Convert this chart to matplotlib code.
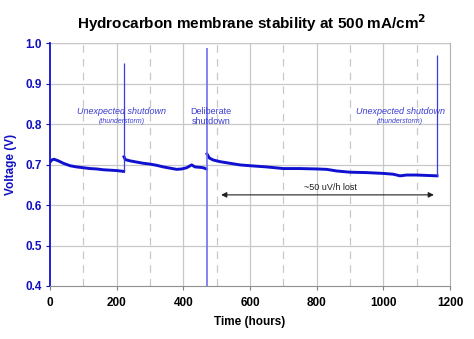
import matplotlib
matplotlib.use("Agg")
import matplotlib.pyplot as plt

# ---- data ----
seg1_t = [0, 5, 12, 25, 40, 60, 80, 100, 120, 140, 160, 180, 200, 221]
seg1_v = [0.706, 0.711, 0.713, 0.709, 0.703, 0.697, 0.694, 0.692, 0.690, 0.689, 0.687, 0.686, 0.685, 0.683]
seg2_t = [222, 226, 240, 260, 280, 300, 320, 340, 360, 380, 395, 410, 425, 435, 450, 460, 469]
seg2_v = [0.719, 0.712, 0.709, 0.706, 0.703, 0.701, 0.698, 0.694, 0.691, 0.688, 0.689, 0.692, 0.699, 0.694, 0.693, 0.692, 0.689]
seg3_t = [471, 478, 490, 510, 540, 570, 600, 650, 700, 750, 800, 830, 860, 900, 950, 1000, 1030, 1050, 1070, 1100, 1130, 1161]
seg3_v = [0.726, 0.716, 0.711, 0.707, 0.703, 0.699, 0.697, 0.694, 0.690, 0.690, 0.689, 0.688, 0.684, 0.681, 0.680, 0.678, 0.676, 0.672, 0.674, 0.674, 0.673, 0.672]
spike_t = [222, 1161]
spike_low = [0.683, 0.672]
spike_high = [0.950, 0.970]
deliberate_t = 470
deliberate_high = 0.988
xticks = [0, 200, 400, 600, 800, 1000, 1200]
yticks = [0.4, 0.5, 0.6, 0.7, 0.8, 0.9, 1.0]

plt.rcParams['font.family'] = ['Liberation Sans', 'DejaVu Sans']
blue = '#1010d0'
fig = plt.figure(figsize=(4.74, 3.39), dpi=100)
ax = fig.add_axes([50/474, 1-286/339, 400/474, 243/339])

# grid
for x in range(100, 1200, 100):
    if x % 200 == 0:
        ax.axvline(x, color='#c8c8c8', lw=0.9, zorder=0)
    else:
        ax.axvline(x, color='#c8c8c8', lw=0.9, ls=(0, (6, 5)), zorder=0)
for y in yticks[1:]:
    ax.axhline(y, color='#c8c8c8', lw=0.9, zorder=0)

for t, v in [(seg1_t, seg1_v), (seg2_t, seg2_v), (seg3_t, seg3_v)]:
    ax.plot(t, v, color=blue, lw=2.1, solid_joinstyle='round')
ax.vlines(spike_t, spike_low, spike_high, color='#3a3ae0', lw=0.9)
ax.vlines([deliberate_t], [0.4], [deliberate_high], color='#7070f0', lw=1.2)

ax.set_xlim(0, 1200)
ax.set_ylim(0.4, 1.0)
ax.set_xticks(xticks)
ax.set_yticks(yticks)
ax.set_xticklabels([str(x) for x in xticks], fontsize=8.5, fontweight='bold')
ax.set_yticklabels([f'{y:.1f}' for y in yticks], fontsize=8.5, fontweight='bold', color='#1010c0')
ax.tick_params(axis='x', length=3, color='#808080', pad=5)
ax.tick_params(axis='y', length=3, color='#1010c0', pad=3)
for s in ['top', 'right', 'bottom']:
    ax.spines[s].set_color('#b0b0b0')
ax.spines['top'].set_visible(False)
ax.axhline(1.0, color='#c8c8c8', lw=0.9, zorder=0)
ax.spines['left'].set_color('#1010d0')
ax.spines['left'].set_linewidth(1.3)
ax.spines['bottom'].set_color('#909090')

ax.set_xlabel('Time (hours)', fontsize=8.5, fontweight='bold', labelpad=5)
ax.set_ylabel('Voltage (V)', fontsize=8.5, fontweight='bold', color='#1010c0', labelpad=6)
fig.text(0.53, 0.932, r'Hydrocarbon membrane stability at 500 mA/cm$^\mathbf{2}$',
         ha='center', va='center', fontsize=11, fontweight='bold')

tcol = '#3c3cd0'
ax.text(215, 0.831, 'Unexpected shutdown', ha='center', va='center', fontsize=6.5, style='italic', color=tcol)
ax.text(215, 0.806, '(thunderstorm)', ha='center', va='center', fontsize=5, style='italic', color=tcol)
ax.text(482, 0.831, 'Deliberate', ha='center', va='center', fontsize=6.5, color=tcol)
ax.text(482, 0.806, 'shutdown', ha='center', va='center', fontsize=6.5, color=tcol)
ax.text(1050, 0.831, 'Unexpected shutdown', ha='center', va='center', fontsize=6.5, style='italic', color=tcol)
ax.text(1050, 0.806, '(thunderstorm)', ha='center', va='center', fontsize=5, style='italic', color=tcol)

ax.annotate('', xy=(505, 0.625), xytext=(1160, 0.625),
            arrowprops=dict(arrowstyle='<|-|>', color='#202020', lw=0.8, mutation_scale=8))
ax.text(840, 0.642, '~50 uV/h lost', ha='center', va='center', fontsize=6.5, color='#202020')

fig.savefig('out.png', dpi=100)
